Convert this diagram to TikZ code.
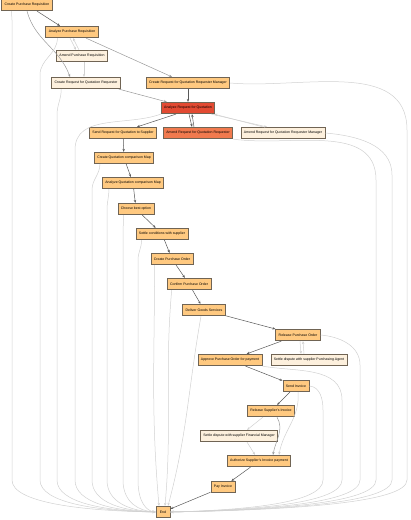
\documentclass[tikz,border=0pt]{standalone}
\usepackage{fontspec}
\setmainfont{Liberation Sans}
\usetikzlibrary{arrows.meta,positioning}
\definecolor{actmain}{RGB}{255,201,128}
\definecolor{actlight}{RGB}{253,240,221}
\definecolor{actred}{RGB}{226,74,50}
\definecolor{actorange}{RGB}{241,122,78}
\definecolor{actborder}{RGB}{112,100,84}

\begin{document}
\begin{tikzpicture}[x=1pt, y=1pt,
    act/.style={draw=actborder, line width=0.7pt, fill=actmain,
        font=\fontsize{3.5}{4}\selectfont, inner xsep=3pt, inner ysep=0pt,
        minimum height=11.5pt},
    flow/.style={-{Stealth[length=3pt,width=2.4pt]}, black!65, line width=0.5pt},
    mid/.style={-{Stealth[length=3pt,width=2.4pt]}, black!40, line width=0.5pt},
    faint/.style={-{Stealth[length=3pt,width=2.4pt]}, black!18, line width=0.5pt}]
    \useasboundingbox (0,0) rectangle (411,-520);

    % Requisition
    \node[act] (cpr) at (27,-5) {Create Purchase Requisition};
    \node[act] (apr) at (72,-32) {Analyze Purchase Requisition};
    \node[act, fill=actlight] (amendpr) at (82,-56) {Amend Purchase Requisition};

    % Request for quotation
    \node[act, fill=actlight] (crfqr) at (86,-83) {Create Request for Quotation Requester};
    \node[act] (crfqm) at (188,-83) {Create Request for Quotation Requester Manager};
    \node[act, fill=actred] (arfq) at (188,-108) {Analyze Request for Quotation};
    \node[act] (sendrfq) at (123,-133) {Send Request for Quotation to Supplier};
    \node[act, fill=actorange] (amendrfqr) at (198,-133) {Amend Request for Quotation Requester};
    \node[act, fill=actlight] (amendrfqm) at (283,-133) {Amend Request for Quotation Requester Manager};

    % Quotation and order
    \node[act] (cqcm) at (124,-158) {Create Quotation comparison Map};
    \node[act] (aqcm) at (133,-183) {Analyze Quotation comparison Map};
    \node[act] (choose) at (136,-209) {Choose best option};
    \node[act] (settle) at (162,-234) {Settle conditions with supplier};
    \node[act] (cpo) at (172,-259) {Create Purchase Order};
    \node[act] (cfpo) at (189,-284) {Confirm Purchase Order};
    \node[act] (deliver) at (204,-310) {Deliver Goods Services};
    \node[act] (rpo) at (298,-335) {Release Purchase Order};
    \node[act] (approve) at (230,-360) {Approve Purchase Order for payment};
    \node[act, fill=actlight] (disputepa) at (309,-360) {Settle dispute with supplier Purchasing Agent};

    % Invoice
    \node[act] (sinv) at (296,-386) {Send Invoice};
    \node[act] (rsi) at (271,-411) {Release Supplier's Invoice};
    \node[act, fill=actlight] (disputefm) at (239,-436) {Settle dispute with supplier Financial Manager};
    \node[act] (authorize) at (259,-461) {Authorize Supplier's Invoice payment};
    \node[act] (pay) at (223,-487) {Pay Invoice};
    \node[act, minimum width=14pt] (endn) at (163,-512) {End};

    % Main flow
    \draw[flow] ([xshift=10pt]cpr.south) -- ([xshift=-12pt]apr.north);
    \draw[mid] (cpr.south) to[out=-75,in=110] ([xshift=-16pt]crfqr.north);
    \draw[faint] ([xshift=-2pt]apr.south) -- ([xshift=-6pt]amendpr.north);
    \draw[faint] ([xshift=-3pt]amendpr.north) -- ([xshift=1pt]apr.south);
    \draw[faint] ([xshift=2pt]amendpr.south) -- ([xshift=-2pt]crfqr.north);
    \draw[mid] ([xshift=14pt]apr.south) -- ([xshift=-16pt]crfqm.north);
    \draw[mid] ([xshift=-2pt]crfqr.south east) -- ([xshift=6pt]arfq.north west);
    \draw[flow] (crfqm) -- (arfq);
    \draw[flow] ([xshift=-12pt]arfq.south) -- ([xshift=14pt]sendrfq.north);
    \draw[flow] ([xshift=1pt]arfq.south) -- ([xshift=-6pt]amendrfqr.north);
    \draw[flow] ([xshift=-4pt]amendrfqr.north) -- ([xshift=4pt]arfq.south);
    \draw[faint] ([xshift=-4pt]arfq.south east) -- ([xshift=-16pt]amendrfqm.north);
    \draw[faint] ([xshift=-20pt]amendrfqm.north) -- ([xshift=-1pt]arfq.south east);
    \foreach \a/\b in {sendrfq/cqcm, cqcm/aqcm, aqcm/choose, choose/settle,
        settle/cpo, cpo/cfpo, cfpo/deliver, deliver/rpo, rpo/approve,
        approve/sinv, sinv/rsi, authorize/pay, pay/endn}
        \draw[flow] (\a) -- (\b);
    \draw[faint] ([xshift=2pt]rpo.south) -- ([xshift=-8pt]disputepa.north);
    \draw[faint] ([xshift=-5pt]disputepa.north) -- ([xshift=5pt]rpo.south);
    \draw[faint] ([xshift=2pt]sinv.south) to[out=-85,in=80] ([xshift=20pt]authorize.north);
    \draw[mid] ([xshift=6pt]rsi.south) to[out=-60,in=80] ([xshift=14pt]authorize.north);
    \draw[faint] ([xshift=-8pt]rsi.south) -- ([xshift=8pt]disputefm.north);
    \draw[faint] ([xshift=8pt]disputefm.south) -- ([xshift=-4pt]authorize.north);

    % Ends from the left
    \foreach \n/\s/\c/\y in {cpr/10/12/-20, apr/12/40/-75, crfqr/10/57/-115,
        cqcm/6/92/-190, aqcm/7/107/-210, choose/6/123/-235, settle/6/138/-260}
        \draw[faint] ([xshift=\s pt]\n.south west) to[out=-90,in=90] (\c,\y)
            -- (\c,-480) .. controls (\c,-503) and ({(\c+156)/2},-511) .. (endn.west);
    \draw[faint] (arfq.south west) to[out=-160,in=90] (75,-150)
        -- (75,-480) .. controls (75,-503) and (115,-511) .. (endn.west);
    \draw[faint] ([xshift=4pt]cpo.south west) to[out=-90,in=95] ([xshift=-4pt]endn.north);
    \draw[faint] ([xshift=5pt]cfpo.south west) to[out=-95,in=85] ([xshift=2pt]endn.north);
    \draw[faint] ([xshift=-3pt]deliver.south) to[out=-100,in=75] ([xshift=5pt]endn.north);

    % Ends from the right
    \foreach \n/\c/\y in {crfqm/407/-130, rpo/360/-365, sinv/323/-410}
        \draw[faint] (\n.east) to[out=-5,in=90] (\c,\y)
            -- (\c,-480) .. controls (\c,-503) and ({(\c+170)/2},-510) .. (endn.east);
    \draw[faint] (amendrfqm.east) to[out=-5,in=90] (392,-175)
        -- (392,-480) .. controls (392,-503) and (281,-510) .. (endn.east);
    \draw[faint] (amendrfqr.south east) to[out=-8,in=90] (376,-180)
        -- (376,-480) .. controls (376,-503) and (273,-510) .. (endn.east);
    \draw[faint] (approve.south east) to[out=-10,in=90] (342,-400)
        -- (342,-480) .. controls (342,-503) and (256,-510) .. (endn.east);
\end{tikzpicture}
\end{document}
